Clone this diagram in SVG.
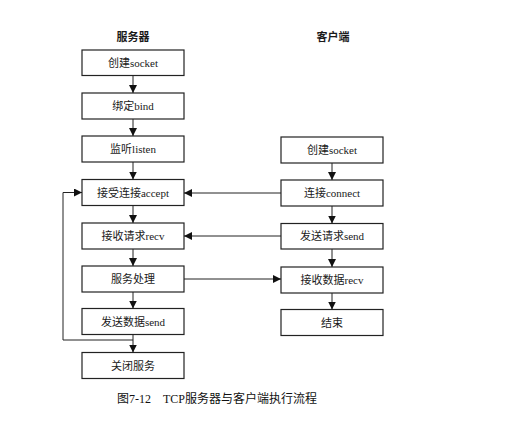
<svg xmlns="http://www.w3.org/2000/svg" width="517" height="423" viewBox="0 0 517 423">
<defs>
<style>
.box{fill:#fff;stroke:#222;stroke-width:1.2}
.t{font-family:"Liberation Serif","Noto Sans CJK SC",serif;font-size:11px;fill:#1a1a1a;text-anchor:middle}
.h{font-family:"Liberation Serif","Noto Sans CJK SC",serif;font-size:11px;fill:#1a1a1a;text-anchor:middle;font-weight:bold}
.cap{font-family:"Liberation Serif","Noto Sans CJK SC",serif;font-size:12px;fill:#111}
.c{fill:none;stroke:#222;stroke-width:1}
</style>
<marker id="ah" viewBox="0 0 10 10" refX="10" refY="5" markerWidth="8" markerHeight="8" markerUnits="userSpaceOnUse" orient="auto">
<path d="M0,0 L10,5 L0,10 z" fill="#111"/>
</marker>
</defs>
<rect width="517" height="423" fill="#fff"/>
<text class="h" x="133" y="41">服务器</text>
<text class="h" x="333" y="41">客户端</text>
<g id="s1"><rect class="box" x="82" y="50" width="102" height="25.5"/><text class="t" x="133" y="67">创建socket</text></g>
<g id="s2"><rect class="box" x="82" y="93" width="102" height="26"/><text class="t" x="133" y="110">绑定bind</text></g>
<g id="s3"><rect class="box" x="82" y="136" width="102" height="26"/><text class="t" x="133" y="153">监听listen</text></g>
<g id="s4"><rect class="box" x="82" y="179.5" width="102" height="26"/><text class="t" x="133" y="196.5">接受连接accept</text></g>
<g id="s5"><rect class="box" x="82" y="223" width="102" height="26"/><text class="t" x="133" y="240">接收请求recv</text></g>
<g id="s6"><rect class="box" x="82" y="266" width="102" height="26"/><text class="t" x="133" y="283">服务处理</text></g>
<g id="s7"><rect class="box" x="82" y="308.5" width="102" height="26"/><text class="t" x="133" y="325.5">发送数据send</text></g>
<g id="s8"><rect class="box" x="82" y="352.5" width="102" height="26"/><text class="t" x="133" y="369.5">关闭服务</text></g>
<g id="c1"><rect class="box" x="281" y="137" width="102" height="26"/><text class="t" x="332" y="154">创建socket</text></g>
<g id="c2"><rect class="box" x="281" y="180" width="102" height="26"/><text class="t" x="332" y="197">连接connect</text></g>
<g id="c3"><rect class="box" x="281" y="223.5" width="102" height="25.5"/><text class="t" x="332" y="240">发送请求send</text></g>
<g id="c4"><rect class="box" x="281" y="267" width="102" height="26"/><text class="t" x="332" y="284">接收数据recv</text></g>
<g id="c5"><rect class="box" x="281" y="309.5" width="102" height="26"/><text class="t" x="332" y="326.5">结束</text></g>
<g id="connectors">
<path class="c" marker-end="url(#ah)" d="M133,75.5 V93"/>
<path class="c" marker-end="url(#ah)" d="M133,119 V136"/>
<path class="c" marker-end="url(#ah)" d="M133,162 V179.5"/>
<path class="c" marker-end="url(#ah)" d="M133,205.5 V223"/>
<path class="c" marker-end="url(#ah)" d="M133,249 V266"/>
<path class="c" marker-end="url(#ah)" d="M133,292 V308.5"/>
<path class="c" marker-end="url(#ah)" d="M133,334.5 V352.5"/>
<path class="c" marker-end="url(#ah)" d="M133,340 H63 V192.5 H82"/>
<path class="c" marker-end="url(#ah)" d="M332,163 V180"/>
<path class="c" marker-end="url(#ah)" d="M332,206 V223.5"/>
<path class="c" marker-end="url(#ah)" d="M332,249 V267"/>
<path class="c" marker-end="url(#ah)" d="M332,293 V309.5"/>
<path class="c" marker-end="url(#ah)" d="M281,193 H184"/>
<path class="c" marker-end="url(#ah)" d="M281,236 H184"/>
<path class="c" marker-end="url(#ah)" d="M184,279 H281"/>
</g>
<text class="cap" x="117" y="403">图7-12</text>
<text class="cap" x="163" y="403">TCP服务器与客户端执行流程</text>
</svg>
